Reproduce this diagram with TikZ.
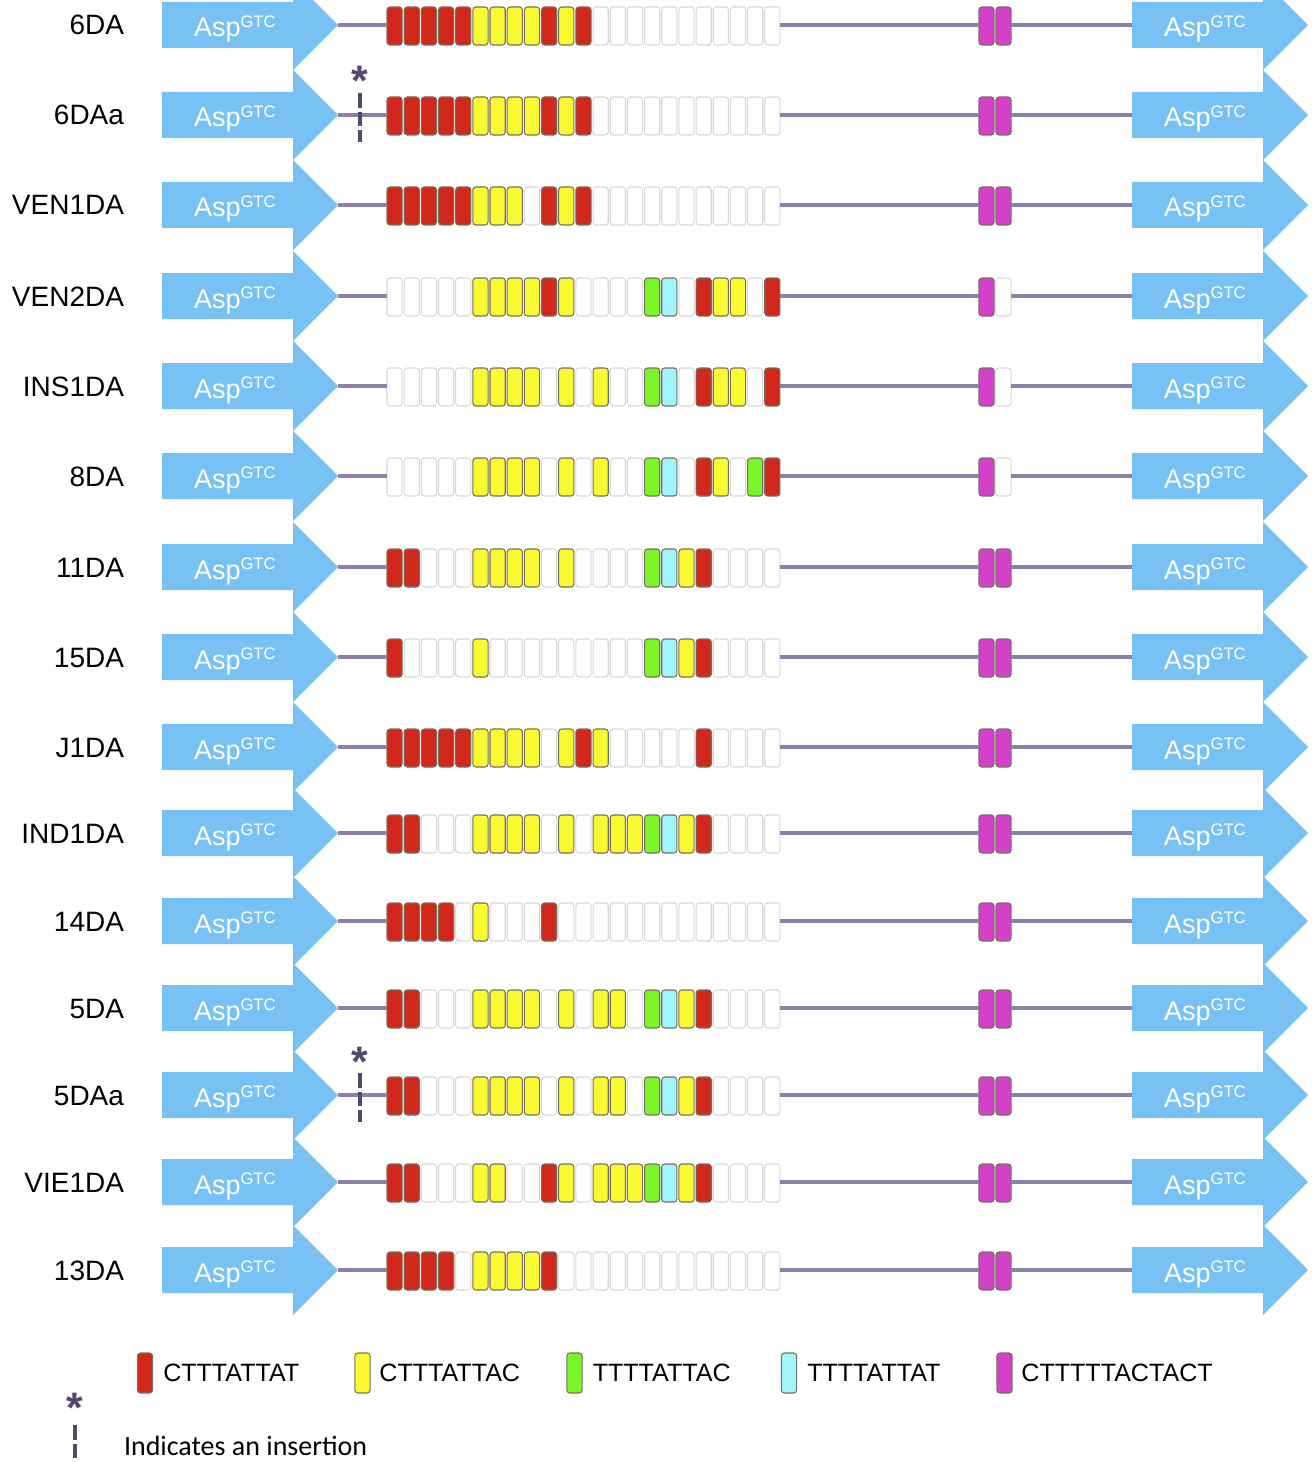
\documentclass[tikz,border=0pt]{standalone}
\usepackage{fontspec}
\setmainfont{Liberation Sans}
\newfontfamily\notefont{Carlito}
\usetikzlibrary{positioning}
\definecolor{skyblue}{RGB}{120,193,245}
\definecolor{linkgray}{RGB}{139,128,168}
\definecolor{insmark}{RGB}{84,72,112}
\definecolor{cR}{RGB}{210,40,28}
\definecolor{cY}{RGB}{250,250,50}
\definecolor{cG}{RGB}{122,246,40}
\definecolor{cC}{RGB}{160,246,250}
\definecolor{cM}{RGB}{212,64,202}
\definecolor{cW}{RGB}{255,255,255}
\definecolor{edge}{RGB}{118,112,92}
\colorlet{bR}{edge}
\colorlet{bY}{edge}
\colorlet{bG}{edge}
\colorlet{bC}{edge}
\colorlet{bM}{edge}
\definecolor{bW}{RGB}{216,216,216}
\newcommand\gtcsize{\fontsize{12.5}{14}\selectfont}

\begin{document}
\begin{tikzpicture}
              [x=0.75pt,y=-0.75pt,
                every node/.style={inner sep=0pt,outer sep=0pt},
                rep/.style={rectangle,rounded corners=2.2pt,minimum width=11.4pt,minimum height=28.5pt,
                  fill=c#1,draw=b#1,line width=0.8pt},
                link/.style={draw=linkgray,line width=3pt},
                tag/.style={anchor=base east,font=\fontsize{21}{25}\selectfont},
                asp/.style={anchor=base west,text=white,font=\fontsize{20.25}{24}\selectfont},
                star/.style={anchor=base,text=insmark,font=\fontsize{32}{34}\selectfont\bfseries},
                ins/.style={draw=insmark,line width=3pt,dash pattern=on 11pt off 3pt},
                keytxt/.style={font=\fontsize{18.8}{22}\selectfont}]
              \useasboundingbox (0,0) rectangle (1314,1462);
              % one row per strain: y / label / repeats / 3' pair / insertion
              \foreach \y/\lbl/\reps/\ma/\mb/\ins [count=\i] in {
                25/6DA/{R,R,R,R,R,Y,Y,Y,Y,R,Y,R,W,W,W,W,W,W,W,W,W,W,W}/M/M/0,
                115/6DAa/{R,R,R,R,R,Y,Y,Y,Y,R,Y,R,W,W,W,W,W,W,W,W,W,W,W}/M/M/1,
                205/VEN1DA/{R,R,R,R,R,Y,Y,Y,W,R,Y,R,W,W,W,W,W,W,W,W,W,W,W}/M/M/0,
                296/VEN2DA/{W,W,W,W,W,Y,Y,Y,Y,R,Y,W,W,W,W,G,C,W,R,Y,Y,W,R}/M/W/0,
                386/INS1DA/{W,W,W,W,W,Y,Y,Y,Y,W,Y,W,Y,W,W,G,C,W,R,Y,Y,W,R}/M/W/0,
                476/8DA/{W,W,W,W,W,Y,Y,Y,Y,W,Y,W,Y,W,W,G,C,W,R,Y,W,G,R}/M/W/0,
                567/11DA/{R,R,W,W,W,Y,Y,Y,Y,W,Y,W,W,W,W,G,C,Y,R,W,W,W,W}/M/M/0,
                657/15DA/{R,W,W,W,W,Y,W,W,W,W,W,W,W,W,W,G,C,Y,R,W,W,W,W}/M/M/0,
                747/J1DA/{R,R,R,R,R,Y,Y,Y,Y,W,Y,R,Y,W,W,W,W,W,R,W,W,W,W}/M/M/0,
                833/IND1DA/{R,R,W,W,W,Y,Y,Y,Y,W,Y,W,Y,Y,Y,G,C,Y,R,W,W,W,W}/M/M/0,
                921/14DA/{R,R,R,R,W,Y,W,W,W,R,W,W,W,W,W,W,W,W,W,W,W,W,W}/M/M/0,
                1008/5DA/{R,R,W,W,W,Y,Y,Y,Y,W,Y,W,Y,Y,W,G,C,Y,R,W,W,W,W}/M/M/0,
                1095/5DAa/{R,R,W,W,W,Y,Y,Y,Y,W,Y,W,Y,Y,W,G,C,Y,R,W,W,W,W}/M/M/1,
                1182/VIE1DA/{R,R,W,W,W,Y,Y,W,W,R,Y,W,Y,Y,Y,G,C,Y,R,W,W,W,W}/M/M/0,
                1270/13DA/{R,R,R,R,W,Y,Y,Y,Y,R,W,W,W,W,W,W,W,W,W,W,W,W,W}/M/M/0}
              {
                \fill[skyblue] (162,\y) ++(0,-23) -- ++(131,0) -- ++(0,-22) -- ++(45,45)
                  -- ++(-45,45) -- ++(0,-22) -- ++(-131,0) -- cycle;
                \fill[skyblue] (1132,\y) ++(0,-23) -- ++(131,0) -- ++(0,-22) -- ++(45,45)
                  -- ++(-45,45) -- ++(0,-22) -- ++(-131,0) -- cycle;
                \coordinate (tip\i) at (338,\y);
                \coordinate (tail\i) at (1132,\y);
                \node[tag] (n\i) at (124,\y+10) {\lbl};
                \node[asp] (la\i) at (194,\y+12) {Asp\raisebox{7pt}{\gtcsize GTC}};
                \node[asp] (ra\i) at (1164,\y+12) {Asp\raisebox{7pt}{\gtcsize GTC}};
                \foreach \c [count=\k from 0] in \reps
                  \node[rep=\c] (b\i-\k) at ({394.6+17.17*\k},\y+1) {};
                \node[rep=\ma] (m\i-a) at (986.5,\y+1) {};
                \node[rep=\mb] (m\i-b) at (1003.5,\y+1) {};
                \draw[link] (tip\i) -- (b\i-0.west |- tip\i);
                \draw[link] (b\i-22.east |- tip\i) -- (m\i-a.west |- tip\i);
                \draw[link] (m\i-b.east |- tip\i) -- (tail\i);
                \ifnum\ins=1
                  \node[star] (s\i) at (360,\y-19) {*};
                  \draw[ins] (360,\y-22) -- (360,\y+27);
                \fi
              }
              % legend
              \node[rep=R,minimum height=30pt] (kR) at (145,1373) {};
              \node[keytxt,right=8pt of kR] (tR) {CTTTATTAT};
              \node[rep=Y,minimum height=30pt] (kY) at (362.5,1373) {};
              \node[keytxt,right=7pt of kY] (tY) {CTTTATTAC};
              \node[rep=G,minimum height=30pt] (kG) at (574.5,1373) {};
              \node[keytxt,right=8pt of kG] (tG) {TTTTATTAC};
              \node[rep=C,minimum height=30pt] (kC) at (789,1373) {};
              \node[keytxt,right=8pt of kC] (tC) {TTTTATTAT};
              \node[rep=M,minimum height=30pt] (kM) at (1004.5,1373) {};
              \node[keytxt,right=7pt of kM] (tM) {CTTTTTACTACT};
              \node[star] (sk) at (75,1422) {*};
              \draw[ins] (75,1425) -- (75,1466);
              \node[anchor=west,font=\notefont\fontsize{21}{25}\selectfont] (note) at (124,1446) {Indicates an insertion};
            \end{tikzpicture}
\end{document}
